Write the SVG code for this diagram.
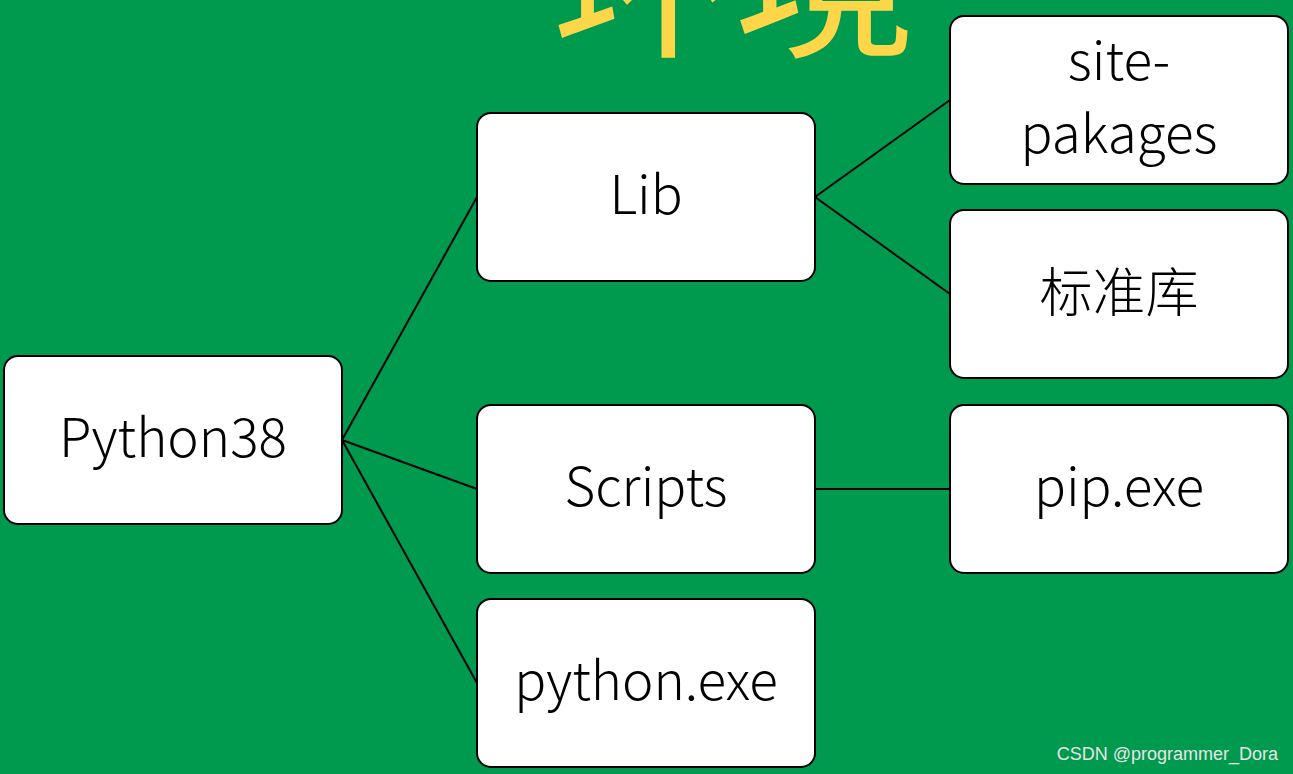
<svg xmlns="http://www.w3.org/2000/svg" width="1293" height="774" viewBox="0 0 1293 774">
<style>
.n rect{fill:#fff;stroke:#000;stroke-width:2}
.n text{font-family:"Noto Sans CJK SC","Noto Sans",sans-serif;font-size:53px;font-weight:300;fill:#000;text-anchor:middle}
#edges line{stroke:#000;stroke-width:2}
</style>
<rect width="1293" height="774" fill="#009a4e"/>
<text x="552" y="43" font-family="Noto Sans CJK SC,sans-serif" font-size="182" fill="#fdd64a">环境</text>
<g id="edges">
<line x1="342" y1="440" x2="477" y2="197"/>
<line x1="342" y1="440" x2="477" y2="489"/>
<line x1="342" y1="440" x2="477" y2="683"/>
<line x1="815" y1="197" x2="950" y2="100"/>
<line x1="815" y1="197" x2="950" y2="294"/>
<line x1="815" y1="489" x2="950" y2="489"/>
</g>
<g id="python38" class="n"><rect x="4" y="356" width="338" height="168" rx="14"/><text x="173" y="457">Python38</text></g>
<g id="lib" class="n"><rect x="477" y="113" width="338" height="168" rx="14"/><text x="646" y="214">Lib</text></g>
<g id="scripts" class="n"><rect x="477" y="405" width="338" height="168" rx="14"/><text x="646" y="506">Scripts</text></g>
<g id="pythonexe" class="n"><rect x="477" y="599" width="338" height="168" rx="14"/><text x="646" y="700">python.exe</text></g>
<g id="sitepkg" class="n"><rect x="950" y="16" width="338" height="168" rx="14"/><text x="1119" y="80">site-</text><text x="1119" y="153">pakages</text></g>
<g id="stdlib" class="n"><rect x="950" y="210" width="338" height="168" rx="14"/><text x="1119" y="312">标准库</text></g>
<g id="pip" class="n"><rect x="950" y="405" width="338" height="168" rx="14"/><text x="1119" y="506">pip.exe</text></g>
<text x="1278" y="760" text-anchor="end" font-family="Liberation Sans,sans-serif" font-size="18" fill="#e6e6e6">CSDN @programmer_Dora</text>
</svg>
